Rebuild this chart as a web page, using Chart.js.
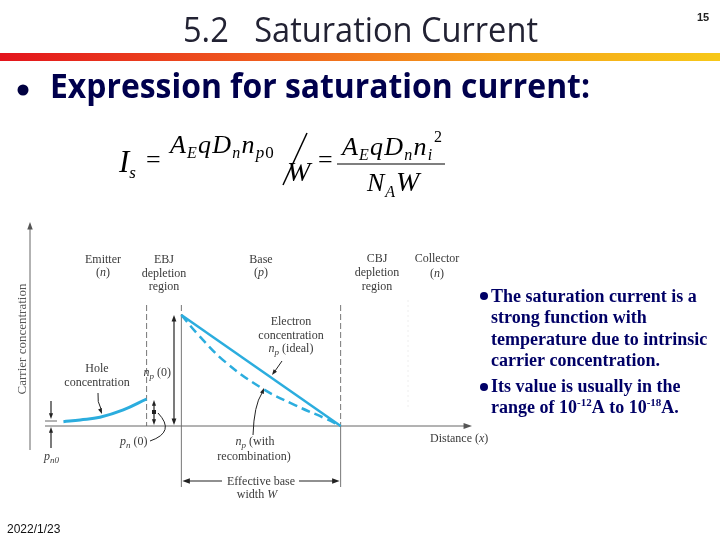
<!DOCTYPE html>
<html>
<head>
<meta charset="utf-8">
<script src="https://cdn.jsdelivr.net/npm/chart.js@4.4.1/dist/chart.umd.min.js"></script>
<style>
  html, body { margin: 0; padding: 0; background: #fff; }
</style>
</head>
<body>
<canvas id="myChart" width="720" height="540"></canvas>
<script>
// carrier profiles (distance / concentration, arbitrary units)
var holeX = [7.6, 11.4, 15.9, 21.2, 26.5];
var holeY = [2.1, 3.0, 4.3, 7.9, 13.3];
var idealX = [34.4, 70.6];
var idealY = [54.7, 0];
var recombX = [34.4, 38.3, 44.3, 52.7, 60.2, 67.0, 70.6];
var recombY = [54.7, 44.8, 31.7, 18.6, 10.3, 3.8, 0];
// junction edges: emitter side of EBJ, base side of EBJ, CBJ
var edges = [26.5, 34.4, 70.6];

function pts(xs, ys) {
    return xs.map(function (x, i) { return { x: x, y: ys[i] }; });
}

var SERIF = '"Liberation Serif", "Times New Roman", serif';
var LABEL = '12px ' + SERIF;
var LABEL_I = 'italic 12px ' + SERIF;
var SUB_I = 'italic 9px ' + SERIF;

function rich(c, x, y, parts, align, gap) {
    gap = gap || 0;
    var w = 0;
    parts.forEach(function (p) { c.font = p[1]; w += c.measureText(p[0]).width + gap; });
    w -= gap;
    var cx = align === 'center' ? x - w / 2 : (align === 'right' ? x - w : x);
    c.textAlign = 'left';
    parts.forEach(function (p) {
        c.font = p[1];
        c.fillText(p[0], cx, y + (p[2] || 0));
        cx += c.measureText(p[0]).width + gap;
    });
    return w;
}

function line(c, x1, y1, x2, y2, dash) {
    c.setLineDash(dash || []);
    c.beginPath();
    c.moveTo(x1, y1);
    c.lineTo(x2, y2);
    c.stroke();
    c.setLineDash([]);
}

function head(c, x, y, ang, size) {
    size = size || 7;
    c.beginPath();
    c.moveTo(x, y);
    c.lineTo(x - size * Math.cos(ang - 0.35), y - size * Math.sin(ang - 0.35));
    c.lineTo(x - size * Math.cos(ang + 0.35), y - size * Math.sin(ang + 0.35));
    c.closePath();
    c.fill();
}

function centered(c, x, lines, y0, dy, font) {
    c.font = font || LABEL;
    c.textAlign = 'center';
    lines.forEach(function (t, i) { c.fillText(t, x, y0 + i * dy); });
}

var slide = {
    id: 'slide',
    beforeDatasetsDraw: function (chart) {
        var c = chart.ctx, xs = chart.scales.x, ys = chart.scales.y;
        var b = ys.getPixelForValue(0);
        var e0 = xs.getPixelForValue(edges[0]);
        var e1 = xs.getPixelForValue(edges[1]);
        var e2 = xs.getPixelForValue(edges[2]);
        c.save();
        c.strokeStyle = '#777';
        c.lineWidth = 1;
        line(c, e0, 305, e0, b, [6, 3]);
        line(c, e1, 305, e1, 316, [6, 3]);
        line(c, e1, 316, e1, 487);
        line(c, e2, 305, e2, b, [6, 3]);
        line(c, e2, b, e2, 487);
        c.strokeStyle = '#eeeeee';
        line(c, 408, 300, 408, 410, [2, 3]);

        // axes
        c.strokeStyle = '#666';
        c.fillStyle = '#555';
        line(c, chart.chartArea.left, 450, chart.chartArea.left, 228);
        head(c, chart.chartArea.left, 222, -Math.PI / 2, 8);
        line(c, 45, b, 464, b);
        head(c, 472, b, 0, 9);
        line(c, 45, 421, 57, 421);
        c.restore();
    },
    afterDraw: function (chart) {
        var c = chart.ctx, xs = chart.scales.x, ys = chart.scales.y;
        var b = ys.getPixelForValue(0);
        var e1 = xs.getPixelForValue(edges[1]);
        var e2 = xs.getPixelForValue(edges[2]);
        c.save();
        c.textBaseline = 'alphabetic';

        // title
        c.fillStyle = '#222233';
        c.font = '34px "Open Sans", "Noto Sans", sans-serif';
        c.textAlign = 'left';
        c.fillText('5.2   Saturation Current', 183, 42, 355);
        c.font = 'bold 11px "Liberation Sans", Arial, sans-serif';
        c.fillStyle = '#222';
        c.fillText('15', 697, 21);

        var g = c.createLinearGradient(0, 0, 720, 0);
        g.addColorStop(0, '#e3141c');
        g.addColorStop(0.35, '#ef5a1e');
        g.addColorStop(0.7, '#f5a21a');
        g.addColorStop(1, '#f7c818');
        c.fillStyle = g;
        c.fillRect(0, 53, 720, 8);

        // heading
        c.fillStyle = '#000040';
        c.beginPath();
        c.arc(23, 90, 5.5, 0, Math.PI * 2);
        c.fill();
        c.fillStyle = '#00004d';
        c.font = 'bold 34px "Open Sans", "Noto Sans", sans-serif';
        c.fillText('Expression for saturation current:', 50, 98, 540);

        // formula
        c.fillStyle = '#000';
        var it = function (s) { return 'italic ' + s + 'px ' + SERIF; };
        var up = function (s) { return s + 'px ' + SERIF; };
        rich(c, 119, 172, [['I', it(31)], ['s', it(17), 6]]);
        rich(c, 146, 168, [['=', up(26)]]);
        rich(c, 170, 153, [['A', it(26)], ['E', it(16), 5], ['q', it(26)], ['D', it(26)], ['n', it(16), 5],
            ['n', it(26)], ['p', it(17), 5], ['0', up(17), 5]], 'left', 1.2);
        c.strokeStyle = '#000';
        c.lineWidth = 1.5;
        line(c, 283, 185, 307, 133);
        rich(c, 287, 181, [['W', it(28)]]);
        rich(c, 318, 168, [['=', up(26)]]);
        rich(c, 342, 155, [['A', it(26)], ['E', it(16), 5], ['q', it(26)], ['D', it(26)], ['n', it(16), 5],
            ['n', it(26)], ['i', it(16), 5]], 'left', 1.2);
        rich(c, 434, 142, [['2', up(16)]]);
        c.lineWidth = 1.2;
        line(c, 337, 164, 445, 164);
        rich(c, 367, 191, [['N', it(26)], ['A', it(16), 6], ['W', it(28)]], 'left', 1);

        // right-hand bullets
        c.fillStyle = '#000066';
        var bf = 'bold 18px ' + SERIF;
        var sf = 'bold 11px ' + SERIF;
        [[484, 296], [484, 387]].forEach(function (p) {
            c.beginPath();
            c.arc(p[0], p[1], 4, 0, Math.PI * 2);
            c.fill();
        });
        c.font = bf;
        c.textAlign = 'left';
        c.fillText('The saturation current is a', 491, 302);
        c.fillText('strong function with', 491, 323);
        c.fillText('temperature due to intrinsic', 491, 345);
        c.fillText('carrier concentration.', 491, 366);
        c.fillText('Its value is usually in the', 491, 392);
        rich(c, 491, 413, [['range of 10', bf], ['-12', sf, -7], ['A to 10', bf], ['-18', sf, -7], ['A.', bf]]);

        // date
        c.fillStyle = '#111';
        c.font = '12px "Liberation Sans", Arial, sans-serif';
        c.fillText('2022/1/23', 7, 533);

        // diagram labels
        c.fillStyle = '#3a3a3a';
        centered(c, 103, ['Emitter'], 263, 13);
        rich(c, 103, 276, [['(', LABEL], ['n', LABEL_I], [')', LABEL]], 'center');
        centered(c, 164, ['EBJ', 'depletion', 'region'], 263, 13.5);
        centered(c, 261, ['Base'], 263, 13);
        rich(c, 261, 276, [['(', LABEL], ['p', LABEL_I], [')', LABEL]], 'center');
        centered(c, 377, ['CBJ', 'depletion', 'region'], 262, 14);
        centered(c, 437, ['Collector'], 262, 13);
        rich(c, 437, 277, [['(', LABEL], ['n', LABEL_I], [')', LABEL]], 'center');
        c.textAlign = 'left';
        c.font = LABEL;
        rich(c, 430, 442, [['Distance (', LABEL], ['x', LABEL_I], [')', LABEL]]);
        centered(c, 291, ['Electron', 'concentration'], 325, 13.5);
        rich(c, 291, 352, [['n', LABEL_I], ['p', SUB_I, 3], [' (ideal)', LABEL]], 'center');
        centered(c, 97, ['Hole', 'concentration'], 372, 13.5);
        rich(c, 171, 376, [['n', LABEL_I], ['p', SUB_I, 3], [' (0)', LABEL]], 'right');
        rich(c, 120, 445, [['p', LABEL_I], ['n', SUB_I, 3], [' (0)', LABEL]]);
        rich(c, 44, 460, [['p', LABEL_I], ['n0', SUB_I, 3]]);
        rich(c, 255, 445, [['n', LABEL_I], ['p', SUB_I, 3], [' (with', LABEL]], 'center');
        centered(c, 254, ['recombination)'], 460, 13);
        centered(c, 261, ['Effective base'], 485, 13);
        rich(c, 257, 498, [['width ', LABEL], ['W', LABEL_I]], 'center');

        c.save();
        c.translate(26, 339);
        c.rotate(-Math.PI / 2);
        c.font = '13px ' + SERIF;
        c.textAlign = 'center';
        c.fillStyle = '#555';
        c.fillText('Carrier concentration', 0, 0);
        c.restore();

        // dimension arrows
        c.strokeStyle = '#222';
        c.fillStyle = '#222';
        c.lineWidth = 1.2;
        line(c, 174, 320, 174, b - 4);
        head(c, 174, 315, -Math.PI / 2, 7);
        head(c, 174, b - 1, Math.PI / 2, 7);
        line(c, 154, 403, 154, b - 4);
        head(c, 154, 400, -Math.PI / 2, 6);
        head(c, 154, b - 1, Math.PI / 2, 6);
        c.fillRect(152, 410, 4, 4);
        line(c, 51, 401, 51, 414);
        head(c, 51, 419, Math.PI / 2, 6);
        line(c, 51, 448, 51, 432);
        head(c, 51, 427, -Math.PI / 2, 6);
        line(c, e1 + 6, 481, 222, 481);
        head(c, e1 + 1, 481, Math.PI, 8);
        line(c, 299, 481, e2 - 6, 481);
        head(c, e2 - 1, 481, 0, 8);

        // leader arrows
        c.lineWidth = 1;
        c.beginPath();
        c.moveTo(150, 441);
        c.quadraticCurveTo(176, 432, 158, 413);
        c.stroke();
        c.beginPath();
        c.moveTo(98, 393);
        c.quadraticCurveTo(97, 402, 101, 409);
        c.stroke();
        head(c, 102, 414, 1.2, 6);
        line(c, 282, 361, 275, 371);
        head(c, 272, 375, 2.2, 6);
        c.beginPath();
        c.moveTo(253, 435);
        c.quadraticCurveTo(254, 405, 262, 393);
        c.stroke();
        head(c, 264, 388, -1.2, 6);
        c.restore();
    }
};

var ctx = document.getElementById('myChart').getContext('2d');
var chart = new Chart(ctx, {
    type: 'line',
    data: {
        datasets: [{
            label: 'Hole concentration',
            data: pts(holeX, holeY),
            borderColor: '#2badde',
            borderWidth: 3,
            tension: 0.4
        }, {
            label: 'np (ideal)',
            data: pts(idealX, idealY),
            borderColor: '#2badde',
            borderWidth: 2.5
        }, {
            label: 'np (with recombination)',
            data: pts(recombX, recombY),
            borderColor: '#2badde',
            borderWidth: 2.5,
            borderDash: [9, 5],
            tension: 0.4
        }]
    },
    options: {
        responsive: false,
        animation: false,
        events: [],
        layout: { padding: { left: 30, right: 250, top: 223, bottom: 114 } },
        elements: { point: { radius: 0 } },
        datasets: { line: { clip: 6, fill: false } },
        scales: {
            x: { type: 'linear', min: 0, max: 100, display: false },
            y: { type: 'linear', min: 0, max: 100, display: false }
        },
        plugins: { legend: { display: false }, tooltip: { enabled: false } }
    },
    plugins: [slide]
});
</script>
</body>
</html>
